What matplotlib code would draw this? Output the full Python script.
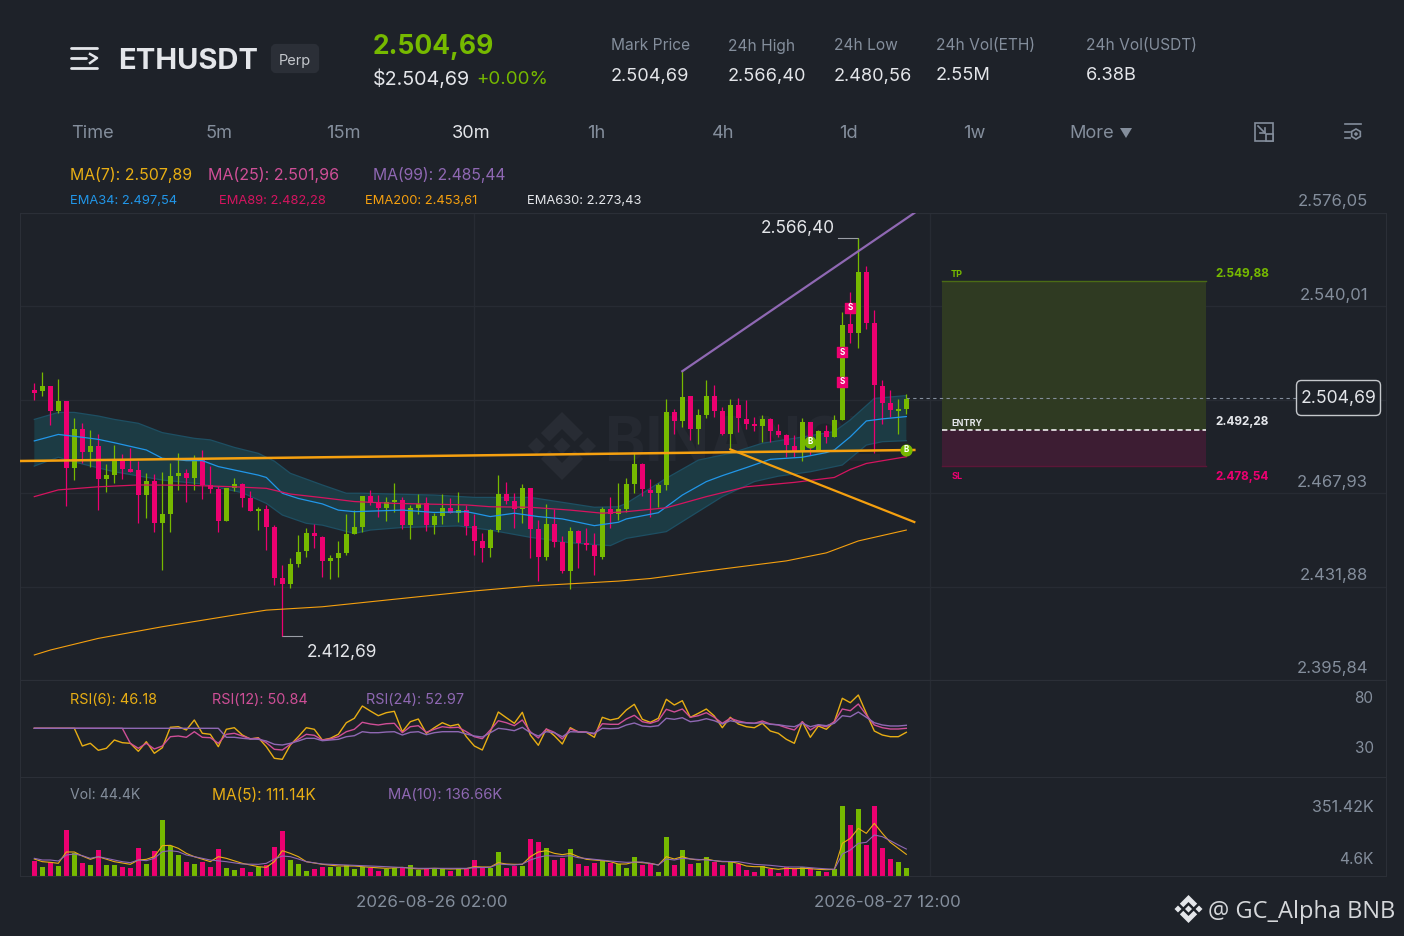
#!/usr/bin/env python3
"""ETHUSDT 30m candle chart with EMA ribbon, RSI and volume panels."""

import matplotlib
matplotlib.use('Agg')
import matplotlib.pyplot as plt
import numpy as np
from matplotlib.patches import FancyBboxPatch, Polygon, Rectangle, RegularPolygon

plt.rcParams['font.family'] = ['Inter', 'DejaVu Sans']

BG = '#1E2229'
GRID = '#272B33'
BORDER = '#2B2F37'
GRAY = '#848E9C'
LIGHT = '#E4E6EA'
GREEN = '#76B900'
PINK = '#EC0070'
ORANGE = '#F5A00F'
YELLOW = '#E8AE14'
ROSE = '#CF4F97'
PURPLE = '#8F68B3'
BLUE = '#2196E8'
CRIMSON = '#D5145F'

# candles
candle_dir = ('pgpgpgpgpg' 'gpppgpgggp' 'gpppggppgp' 'ppgggppggg' 'ggppggpggp'
              'ggpgpppggp' 'pgppgppgpp' 'pgpgggppgg' 'pgpggppgpp' 'pgppppgpgp' 'ggpgppppgg')
candle_high = [
    2510.6, 2514.6, 2509.2, 2512.0, 2503.4, 2496.8, 2495.2, 2492.2, 2490.6, 2479.2,
    2486.5, 2483.1, 2485.2, 2480.2, 2475.9, 2475.2, 2476.1, 2479.7, 2483.3, 2477.1,
    2482.7, 2484.6, 2478.4, 2470.7, 2469.9, 2473.7, 2471.7, 2468.9, 2462.5, 2463.2,
    2455.7, 2440.2, 2442.9, 2451.9, 2454.6, 2455.9, 2451.4, 2444.2, 2449.3, 2459.8,
    2461.4, 2467.0, 2469.2, 2467.2, 2466.5, 2471.9, 2466.3, 2463.2, 2467.5, 2466.3,
    2460.4, 2467.6, 2466.1, 2468.5, 2463.4, 2459.9, 2452.4, 2454.0, 2474.8, 2472.3,
    2468.0, 2471.4, 2469.9, 2457.6, 2463.6, 2462.0, 2451.4, 2454.9, 2453.7, 2454.6,
    2452.4, 2462.7, 2466.5, 2472.0, 2473.9, 2483.3, 2479.5, 2473.3, 2472.0, 2504.2,
    2500.4, 2515.0, 2505.6, 2500.3, 2511.6, 2509.6, 2501.3, 2504.3, 2504.8, 2503.9,
    2497.2, 2498.1, 2497.1, 2494.6, 2490.8, 2490.4, 2497.0, 2495.4, 2492.3, 2494.1,
    2498.1, 2537.7, 2545.5, 2566.40, 2555.6, 2538.6, 2511.6, 2507.8, 2504.3, 2506.1,
]
body_top = [
    2507.6, 2509.2, 2509.2, 2503.4, 2503.4, 2492.7, 2492.6, 2486.1, 2486.1, 2475.1,
    2480.7, 2480.7, 2477.1, 2476.9, 2472.6, 2472.6, 2459.9, 2474.6, 2475.9, 2475.9,
    2481.4, 2481.4, 2471.0, 2469.5, 2469.8, 2471.5, 2471.6, 2465.9, 2462.0, 2462.0,
    2455.0, 2435.2, 2440.6, 2445.4, 2452.6, 2452.6, 2451.1, 2442.8, 2445.0, 2452.2,
    2454.9, 2466.8, 2466.8, 2464.4, 2464.4, 2465.3, 2465.3, 2462.1, 2463.8, 2464.0,
    2459.0, 2462.2, 2462.2, 2461.3, 2461.3, 2455.3, 2449.5, 2453.7, 2467.6, 2467.6,
    2464.9, 2469.8, 2469.8, 2454.0, 2456.0, 2456.0, 2449.2, 2453.2, 2453.2, 2448.8,
    2447.9, 2461.8, 2461.8, 2461.7, 2471.6, 2479.1, 2479.1, 2469.3, 2471.2, 2499.4,
    2499.4, 2505.2, 2505.4, 2498.0, 2505.4, 2505.4, 2499.8, 2502.1, 2502.1, 2496.6,
    2494.8, 2496.6, 2496.6, 2491.9, 2490.4, 2486.3, 2495.4, 2495.3, 2491.9, 2491.9,
    2496.1, 2533.0, 2533.1, 2553.1, 2553.1, 2533.5, 2509.4, 2502.6, 2500.3, 2504.4,
]
body_bottom = [
    2506.7, 2507.5, 2499.8, 2499.8, 2477.7, 2477.7, 2484.0, 2483.8, 2473.5, 2473.5,
    2475.1, 2477.1, 2476.1, 2467.4, 2467.4, 2456.3, 2456.3, 2459.9, 2474.6, 2473.8,
    2473.7, 2471.0, 2469.5, 2457.2, 2457.2, 2469.8, 2465.9, 2461.2, 2461.2, 2455.0,
    2435.2, 2432.9, 2432.9, 2440.7, 2445.5, 2451.3, 2441.6, 2441.6, 2442.9, 2445.0,
    2452.2, 2454.9, 2464.3, 2462.3, 2462.3, 2464.4, 2455.6, 2455.6, 2462.1, 2455.6,
    2455.6, 2459.0, 2460.3, 2460.3, 2455.3, 2449.5, 2446.8, 2446.8, 2453.7, 2464.9,
    2462.0, 2462.0, 2454.0, 2443.3, 2443.3, 2449.2, 2437.9, 2437.9, 2448.8, 2447.9,
    2443.7, 2443.4, 2459.9, 2459.9, 2461.7, 2471.6, 2469.5, 2467.9, 2467.9, 2471.1,
    2495.8, 2495.9, 2492.6, 2492.6, 2498.0, 2499.8, 2490.8, 2490.8, 2496.8, 2494.8,
    2493.9, 2493.9, 2491.9, 2490.5, 2486.5, 2484.0, 2484.0, 2485.2, 2484.6, 2489.5,
    2489.5, 2496.1, 2529.8, 2529.8, 2533.5, 2509.6, 2502.7, 2500.0, 2499.5, 2500.3,
]
candle_low = [
    2503.9, 2505.6, 2494.3, 2498.8, 2463.0, 2473.0, 2479.7, 2478.2, 2461.4, 2468.5,
    2471.7, 2473.3, 2476.0, 2456.6, 2458.4, 2453.0, 2438.3, 2453.0, 2469.2, 2464.7,
    2469.2, 2465.8, 2467.9, 2453.1, 2457.2, 2468.9, 2462.6, 2461.2, 2453.7, 2446.0,
    2432.5, 2412.69, 2431.2, 2439.6, 2443.2, 2446.6, 2435.7, 2434.7, 2435.7, 2443.9,
    2452.2, 2453.1, 2463.2, 2458.9, 2457.2, 2460.8, 2454.1, 2450.2, 2460.0, 2453.3,
    2452.0, 2455.9, 2460.2, 2456.9, 2451.8, 2444.1, 2441.5, 2443.4, 2453.0, 2463.8,
    2454.4, 2456.3, 2442.9, 2434.0, 2442.1, 2447.3, 2437.3, 2430.9, 2438.9, 2446.0,
    2436.2, 2442.7, 2454.6, 2457.6, 2460.8, 2467.9, 2466.8, 2458.6, 2462.7, 2469.2,
    2490.8, 2493.6, 2488.5, 2486.9, 2496.8, 2497.2, 2490.5, 2484.6, 2491.7, 2492.8,
    2492.1, 2487.8, 2487.8, 2489.7, 2482.0, 2482.0, 2480.5, 2482.7, 2484.6, 2487.4,
    2489.5, 2496.1, 2526.0, 2524.0, 2531.2, 2483.6, 2494.6, 2497.2, 2490.8, 2498.4,
]

# moving averages on price, read at selected candles
ema34_idx = [0, 3, 6, 8, 10, 14, 16, 19, 21, 23, 28, 29, 31, 33, 36, 38, 40, 42, 46, 50, 54, 55, 57, 60,
             63, 66, 70, 73, 74, 78, 81, 84, 86, 89, 92, 96, 99, 100, 102, 104, 106, 109]
ema34_val = [2488.1, 2490.6, 2489.5, 2488.7, 2487.4, 2484.6, 2481.4, 2480.5, 2480.5, 2478.2, 2474.9, 2474.0,
             2467.9, 2465.9, 2463.8, 2461.4, 2460.8, 2461.0, 2461.4, 2460.5, 2460.8, 2460.2, 2458.9, 2460.2,
             2458.9, 2458.0, 2455.4, 2456.7, 2458.0, 2460.4, 2467.2, 2472.4, 2474.7, 2477.8, 2481.0, 2481.8,
             2483.6, 2484.6, 2489.7, 2495.8, 2496.6, 2497.5]
ema89_idx = [0, 3, 8, 13, 19, 25, 29, 32, 36, 40, 45, 54, 57, 62, 67, 71, 74, 79, 84, 89, 95, 100, 102, 104, 109]
ema89_val = [2466.6, 2469.2, 2470.4, 2471.1, 2471.0, 2470.4, 2469.8, 2467.6, 2466.2, 2464.7, 2464.0, 2463.4,
             2462.7, 2462.5, 2461.4, 2460.2, 2460.8, 2462.3, 2466.6, 2470.4, 2472.1, 2474.0, 2477.1, 2479.4, 2482.0]
ema200_idx = [0, 2, 8, 16, 25, 29, 36, 45, 55, 62, 73, 77, 83, 94, 99, 103, 109]
ema200_val = [2405.5, 2407.4, 2411.9, 2416.4, 2420.9, 2422.8, 2424.1, 2427.0, 2430.2, 2432.1, 2434.0, 2435.0,
              2437.5, 2441.8, 2444.9, 2449.5, 2453.7]
upper_idx = [0, 3, 5, 8, 10, 13, 16, 20, 22, 25, 28, 30, 32, 36, 39, 41, 50, 55, 62, 70, 73, 74, 79, 83, 87,
             91, 95, 100, 102, 105, 109]
upper_val = [2496.4, 2499.1, 2499.1, 2497.7, 2496.4, 2494.9, 2491.3, 2489.1, 2488.5, 2485.6, 2483.3, 2480.3,
             2475.6, 2471.1, 2467.9, 2467.9, 2467.2, 2466.3, 2466.3, 2462.5, 2462.7, 2464.0, 2473.7, 2480.7,
             2483.3, 2487.2, 2489.1, 2491.7, 2496.2, 2504.5, 2505.6]
lower_idx = [0, 3, 6, 10, 16, 21, 26, 29, 31, 34, 36, 40, 42, 46, 53, 57, 62, 67, 72, 74, 79, 82, 86, 90, 93,
             97, 101, 104, 106, 109]
lower_val = [2478.4, 2481.8, 2479.2, 2476.2, 2473.0, 2471.5, 2468.1, 2464.0, 2459.5, 2456.3, 2455.6, 2452.4,
             2453.7, 2454.7, 2455.3, 2453.7, 2450.9, 2448.8, 2447.7, 2450.5, 2453.1, 2458.9, 2466.6, 2472.4,
             2474.5, 2476.2, 2478.8, 2486.5, 2487.8, 2488.2]

# drawings on the price panel: (candle, price) pairs
trend_up = ([81, 110], [2515.0, 2576.05])
support = ([-1.8, 110], [2480.35, 2484.6])
trend_down = ([87, 110], [2484.85, 2456.8])
sell_marks = ([101, 101, 102], [2522.3, 2511.0, 2539.5])
buy_marks = ([97, 109], [2487.8, 2484.6])

tp_price = 2549.88
entry_price = 2492.28
sl_price = 2478.54
last_price = 2504.69
box_span = (113.5, 146.5)

price_ticks = [2576.05, 2540.01, 2503.97, 2467.93, 2431.88, 2395.84]
price_tick_labels = ['2.576,05', '2.540,01', '', '2.467,93', '2.431,88', '2.395,84']

rsi6 = [
    50.2, 50.2, 50.2, 50.2, 50.2, 50.2, 32.5, 35.2, 28.2, 30.2, 38.5, 35.8, 35.2, 27.2, 36.8, 25.2, 30.8, 51.2,
    51.8, 48.5, 58.5, 45.2, 44.2, 31.8, 49.2, 50.8, 43.5, 39.5, 40.8, 31.8, 20.2, 19.2, 33.5, 41.8, 50.8, 49.2,
    38.5, 40.2, 44.2, 55.8, 60.2, 72.5, 67.5, 62.8, 65.8, 67.2, 46.8, 56.8, 59.5, 45.2, 50.8, 55.8, 52.5, 54.2,
    41.8, 32.5, 28.5, 46.8, 66.5, 60.8, 55.2, 66.2, 43.5, 33.2, 49.5, 42.8, 34.5, 50.8, 46.5, 46.2, 41.2, 61.2,
    58.5, 60.2, 68.5, 74.2, 59.2, 56.2, 60.2, 79.2, 73.5, 77.8, 61.2, 65.2, 69.5, 62.5, 50.8, 61.2, 54.5, 51.8,
    50.8, 55.2, 47.5, 45.2, 39.2, 35.2, 56.8, 41.2, 52.5, 49.2, 56.8, 80.2, 75.8, 83.5, 65.2, 47.5, 43.5, 41.8,
    41.8, 46.2,
]
rsi12 = [
    50.2, 50.2, 50.2, 50.2, 50.2, 50.2, 50.2, 50.2, 50.2, 50.2, 50.2, 50.2, 35.2, 30.2, 35.2, 29.5, 32.5, 41.8,
    42.5, 41.2, 46.8, 41.2, 40.8, 35.2, 44.2, 45.2, 42.5, 39.8, 40.2, 35.8, 29.2, 28.5, 34.2, 39.2, 44.2, 43.2,
    38.5, 39.5, 41.8, 46.8, 49.2, 56.2, 54.5, 53.5, 54.8, 55.2, 45.8, 51.8, 52.8, 46.2, 49.2, 51.8, 50.8, 51.2,
    46.8, 41.8, 39.8, 48.5, 57.8, 55.8, 52.8, 58.5, 46.8, 40.5, 49.5, 46.2, 39.5, 49.5, 46.8, 46.5, 44.5, 54.8,
    54.2, 54.2, 59.5, 63.2, 56.8, 55.2, 57.8, 69.2, 66.5, 69.5, 61.2, 62.8, 65.8, 61.2, 55.2, 60.2, 57.5, 55.8,
    55.2, 57.5, 54.5, 53.5, 50.8, 48.5, 56.8, 48.5, 53.5, 51.8, 56.8, 69.5, 67.8, 74.5, 63.5, 53.5, 50.8, 49.5,
    49.5, 50.2,
]
rsi24 = [
    50.2, 50.2, 50.2, 50.2, 50.2, 50.2, 50.2, 50.2, 50.2, 50.2, 50.2, 50.2, 50.2, 50.2, 50.2, 50.2, 50.2, 50.2,
    50.2, 50.2, 50.2, 50.2, 50.2, 50.2, 41.2, 41.2, 40.2, 39.5, 39.2, 37.5, 34.2, 33.5, 35.2, 37.5, 40.2, 40.2,
    37.8, 38.5, 39.2, 41.8, 42.8, 46.8, 45.8, 45.8, 46.5, 46.8, 43.5, 46.2, 46.8, 43.8, 45.8, 46.8, 46.8, 46.8,
    44.5, 42.5, 41.5, 45.8, 50.2, 49.2, 47.8, 51.2, 45.8, 42.5, 46.8, 45.8, 41.8, 46.8, 46.5, 46.2, 45.2, 50.2,
    49.8, 50.2, 53.5, 55.5, 52.5, 51.8, 52.8, 60.2, 59.2, 60.8, 56.8, 57.8, 59.8, 57.8, 54.5, 57.8, 56.2, 55.5,
    55.2, 55.8, 54.2, 53.8, 52.5, 51.8, 55.2, 51.8, 53.8, 52.8, 55.2, 62.8, 61.8, 66.5, 61.2, 55.8, 53.5, 52.5,
    52.5, 53.2,
]

volume = [
    75.3, 46.8, 71.9, 50.2, 232.5, 113.8, 66.9, 53.5, 132.2, 56.9, 56.9, 46.8, 41.8, 140.5, 61.9, 123.8, 279.4,
    150.6, 103.7, 71.9, 61.9, 70.3, 45.2, 133.8, 40.2, 31.8, 38.5, 21.7, 43.5, 53.5, 145.6, 224.2, 80.3, 60.2,
    25.1, 33.5, 46.8, 46.8, 46.8, 56.9, 33.5, 43.5, 38.5, 25.1, 33.5, 38.5, 46.8, 53.5, 31.8, 36.8, 33.5, 35.1,
    25.1, 33.5, 33.5, 80.3, 38.5, 38.5, 120.5, 38.5, 51.9, 50.2, 184.0, 169.0, 140.5, 78.6, 92.0, 133.8, 60.2,
    50.2, 66.9, 78.6, 66.9, 61.9, 40.2, 95.4, 56.9, 63.6, 21.7, 195.7, 53.5, 128.8, 61.9, 66.9, 95.4, 71.9, 53.5,
    70.3, 61.9, 31.8, 21.7, 50.2, 35.1, 16.7, 46.8, 33.5, 45.2, 40.2, 26.8, 21.7, 33.5, 351.4, 256.0, 337.9,
    153.9, 351.4, 138.9, 85.3, 71.9, 38.5,
]
vol_ma5_idx = [0, 1, 2, 3, 4, 5, 6, 7, 8, 10, 12, 13, 14, 15, 16, 17, 18, 19, 20, 22, 23, 24, 26, 28, 29, 30, 31, 32,
               33, 34, 36, 38, 40, 42, 44, 46, 48, 50, 52, 54, 55, 56, 57, 58, 59, 60, 61, 62, 63, 64, 65, 66, 67,
               68, 69, 70, 71, 72, 73, 74, 75, 76, 77, 78, 79, 80, 81, 82, 83, 84, 85, 86, 87, 88, 89, 90, 91, 92,
               93, 94, 95, 96, 97, 98, 99, 100, 101, 102, 103, 104, 105, 106, 107, 108, 109]
vol_ma5_val = [85.3, 71.9, 68.6, 63.6, 120.5, 120.5, 100.4, 83.7, 97.0, 71.9, 58.6, 80.3, 83.7, 97.0, 152.2, 153.9,
               138.9, 113.8, 97.0, 71.9, 97.0, 88.7, 63.6, 46.8, 43.5, 71.9, 127.1, 113.8, 97.0, 71.9, 58.6, 50.2,
               50.2, 43.5, 38.5, 43.5, 35.1, 38.5, 35.1, 36.8, 46.8, 45.2, 45.2, 66.9, 60.2, 58.6, 58.6, 97.0, 120.5,
               127.1, 113.8, 107.1, 113.8, 97.0, 83.7, 80.3, 77.0, 71.9, 60.2, 60.2, 70.3, 66.9, 63.6, 55.2, 97.0,
               85.3, 97.0, 85.3, 80.3, 85.3, 77.0, 71.9, 71.9, 63.6, 50.2, 46.8, 46.8, 38.5, 33.5, 38.5, 36.8, 38.5,
               36.8, 33.5, 31.8, 33.5, 164.0, 189.0, 239.2, 214.1, 264.3, 214.1, 169.0, 138.9, 108.7]
vol_ma10_idx = [0, 1, 2, 3, 4, 5, 6, 7, 8, 9, 10, 11, 12, 13, 14, 15, 16, 17, 18, 19, 20, 22, 24, 26, 28, 29, 30, 31,
                32, 33, 34, 36, 40, 44, 48, 54, 55, 57, 58, 60, 61, 62, 63, 64, 66, 67, 68, 70, 72, 74, 76, 78, 79,
                80, 81, 84, 86, 88, 90, 92, 94, 96, 98, 100, 101, 102, 103, 104, 105, 106, 107, 108, 109]
vol_ma10_val = [88.7, 80.3, 80.3, 75.3, 105.4, 110.4, 102.1, 88.7, 97.0, 88.7, 80.3, 71.9, 66.9, 80.3, 77.0, 88.7,
                122.1, 127.1, 122.1, 105.4, 97.0, 80.3, 71.9, 60.2, 58.6, 63.6, 85.3, 100.4, 97.0, 85.3, 71.9, 60.2,
                53.5, 46.8, 38.5, 38.5, 41.8, 43.5, 60.2, 55.2, 60.2, 80.3, 93.7, 102.1, 98.7, 102.1, 92.0, 83.7,
                75.3, 68.6, 70.3, 55.2, 85.3, 80.3, 88.7, 80.3, 73.6, 71.9, 58.6, 53.5, 45.2, 45.2, 38.5, 33.5,
                110.4, 130.5, 164.0, 169.0, 205.8, 197.4, 177.3, 155.6, 135.5]

# header
stat_labels = ['Mark Price', '24h High', '24h Low', '24h Vol(ETH)', '24h Vol(USDT)']
stat_values = ['2.504,69', '2.566,40', '2.480,56', '2.55M', '6.38B']
intervals = ['Time', '5m', '15m', '30m', '1h', '4h', '1d', '1w', 'More']
time_ticks = [55, 112]
time_labels = ['2026-08-26 02:00', '2026-08-27 12:00']


def bnb_logo(ax, cx, cy, r, color):
    for dx in (-0.75, 0, 0.75):
        pts = [(dx, -0.25), (dx + 0.25, 0), (dx, 0.25), (dx - 0.25, 0)]
        ax.add_patch(Polygon([(cx + r * a, cy + r * b) for a, b in pts], color=color, lw=0))
    for sign in (-1, 1):
        pts = [(0, -1), (0.62, -0.38), (0.37, -0.13), (0, -0.5), (-0.37, -0.13), (-0.62, -0.38)]
        ax.add_patch(Polygon([(cx + r * a, cy + sign * r * b) for a, b in pts], color=color, lw=0))


def draw_decor(deco):
    # menu icon
    deco.plot([71, 97], [48, 48], color=LIGHT, lw=2, solid_capstyle='round')
    deco.plot([71, 86], [58, 58], color=LIGHT, lw=2, solid_capstyle='round')
    deco.plot([71, 97], [68, 68], color=LIGHT, lw=2, solid_capstyle='round')
    deco.plot([90, 97, 90], [54, 58, 63], color=LIGHT, lw=1.8)
    deco.text(118, 61.5, 'ETHUSDT', color=LIGHT, fontsize=21, fontweight='bold', va='center')
    deco.add_patch(FancyBboxPatch((273, 46), 44, 25, boxstyle='round,pad=0,rounding_size=3', fc='#2B2F37', ec='#2B2F37', lw=3))
    deco.text(295, 61, 'Perp', color='#C4C7CC', fontsize=10.5, ha='center', va='center')
    deco.text(373, 47.5, '2.504,69', color=GREEN, fontsize=19, fontweight='bold', va='center')
    deco.text(373, 79, '$2.504,69', color=LIGHT, fontsize=14.2, va='center')
    deco.text(476, 79, '+0.00%', color=GREEN, fontsize=13.5, va='center')
    for x, label, value in zip([611, 728, 834, 936, 1086], stat_labels, stat_values):
        deco.text(x, 46, label, color=GRAY, fontsize=11.2, va='center')
        deco.text(x, 76, value, color=LIGHT, fontsize=13.1, va='center')
    for x, label in zip([71, 205.5, 326, 452, 587, 712, 839, 963, 1069], intervals):
        deco.text(x, 134, label, color=LIGHT if label == '30m' else GRAY, fontsize=13.1, va='center')
    deco.add_patch(Polygon([(1120, 128), (1132, 128), (1126, 138)], color=GRAY, lw=0))
    # chart type icons
    deco.add_patch(Rectangle((1254.5, 122.5), 18, 18, fc='none', ec=GRAY, lw=1.2))
    deco.add_patch(Rectangle((1265.5, 133.5), 7, 7, fc=BG, ec=GRAY, lw=1.2))
    deco.plot([1258, 1265], [126, 133], color=GRAY, lw=1.2)
    deco.plot([1265, 1265, 1260], [128, 133, 133], color=GRAY, lw=1.2)
    deco.plot([1345, 1361], [124, 124], color=GRAY, lw=1.2)
    deco.plot([1345, 1350], [132, 132], color=GRAY, lw=1.2)
    deco.plot([1345, 1350], [138, 138], color=GRAY, lw=1.2)
    deco.add_patch(RegularPolygon((1356, 134), 6, radius=5, fc='none', ec=GRAY, lw=1.2))
    deco.add_patch(RegularPolygon((1356, 134), 6, radius=1.5, fc=GRAY, ec=GRAY, lw=0.5))
    # legends
    for x, s, c, size in zip([70, 208, 373], ['MA(7): 2.507,89', 'MA(25): 2.501,96', 'MA(99): 2.485,44'],
                             [YELLOW, ROSE, PURPLE], [11.4, 11.5, 11.3]):
        deco.text(x, 175, s, color=c, fontsize=size, va='center')
    for x, s, c in zip([70, 219, 365, 527],
                       ['EMA34: 2.497,54', 'EMA89: 2.482,28', 'EMA200: 2.453,61', 'EMA630: 2.273,43'],
                       [BLUE, CRIMSON, ORANGE, LIGHT]):
        deco.text(x, 201, s, color=c, fontsize=9.3, va='center')
    for x, s, c in zip([70, 212, 366], ['RSI(6): 46.18', 'RSI(12): 50.84', 'RSI(24): 52.97'], [YELLOW, ROSE, PURPLE]):
        deco.text(x, 700, s, color=c, fontsize=10.4, va='center')
    for x, s, c, size in zip([70, 212, 388], ['Vol: 44.4K', 'MA(5): 111.14K', 'MA(10): 136.66K'],
                             [GRAY, YELLOW, PURPLE], [10.1, 11.1, 10.6]):
        deco.text(x, 795, s, color=c, fontsize=size, va='center')
    # faint exchange mark behind the candles
    bnb_logo(deco, 562, 446, 34, '#282C34')
    deco.text(605, 446, 'BINANCE', color='#252931', fontsize=44, fontweight='bold', va='center')
    # credit
    bnb_logo(deco, 1188.5, 909, 14, '#E4E6EA')
    deco.text(1208, 912, '@ GC_Alpha BNB', color='#D5D7DA', fontsize=17, family=['Open Sans', 'DejaVu Sans'], va='center')


def style_panel(ax, ticks):
    ax.set_facecolor('none')
    ax.set_xticks(time_ticks)
    ax.grid(True, axis='x', color=GRID, linewidth=1)
    ax.set_axisbelow(True)
    ax.tick_params(axis='x', length=0, labelbottom=False)
    ax.yaxis.tick_right()
    ax.set_yticks(ticks)
    ax.tick_params(axis='y', length=0, labelright=False)
    for spine in ax.spines.values():
        spine.set_color(BORDER)


def side_label(ax, value, text, dx, dy, size):
    ax.annotate(text, xy=(1, value), xycoords=ax.get_yaxis_transform(), xytext=(dx, dy),
                textcoords='offset points', color=GRAY, fontsize=size, ha='right', va='center')


def draw_price(ax, deco):
    x = np.arange(len(candle_high))
    colors = [GREEN if c == 'g' else PINK for c in candle_dir]
    ax.fill(list(upper_idx) + lower_idx[::-1], list(upper_val) + lower_val[::-1], color='#1C3B44', lw=0, zorder=1)
    ax.plot(upper_idx, upper_val, color='#1E4F63', lw=0.9, zorder=1.5)
    ax.plot(lower_idx, lower_val, color='#1E4F63', lw=0.9, zorder=1.5)
    ax.vlines(x, candle_low, candle_high, colors=colors, lw=0.9, zorder=2)
    ax.bar(x, np.array(body_top) - np.array(body_bottom), bottom=body_bottom, width=0.64, color=colors, lw=0, zorder=2.5)
    ax.plot(ema34_idx, ema34_val, color=BLUE, lw=0.9, zorder=3)
    ax.plot(ema89_idx, ema89_val, color=CRIMSON, lw=0.9, zorder=3)
    ax.plot(ema200_idx, ema200_val, color=ORANGE, lw=0.8, zorder=3)
    ax.plot(*trend_up, color=PURPLE, lw=1.6, zorder=3.5)
    ax.plot(*support, color=ORANGE, lw=1.8, zorder=3.5)
    ax.plot(*trend_down, color=ORANGE, lw=1.6, zorder=3.5)
    ax.axhspan(entry_price, tp_price, *[(v + 1.79) / 170.75 for v in box_span], color='#2F3A22', lw=0, zorder=1)
    ax.axhspan(sl_price, entry_price, *[(v + 1.79) / 170.75 for v in box_span], color='#3D1D33', lw=0, zorder=1)
    ax.plot(box_span, [tp_price, tp_price], color='#4B6B15', lw=1, zorder=1.2)
    ax.plot(box_span, [sl_price, sl_price], color='#5C1638', lw=1, zorder=1.2)
    ax.plot(box_span, [entry_price, entry_price], color='white', lw=1.1, ls=(0, (3.5, 2)), zorder=2)
    ax.plot([109, 157.7], [last_price, last_price], color=GRAY, lw=0.8, ls=(0, (3, 3)), zorder=1.6)
    ax.text(114.6, tp_price + 0.6, 'TP', color=GREEN, fontsize=6.5, fontweight='bold', va='bottom')
    ax.text(114.6, entry_price + 0.9, 'ENTRY', color=LIGHT, fontsize=6.5, fontweight='bold', va='bottom')
    ax.text(114.6, sl_price - 2.4, 'SL', color=PINK, fontsize=6.5, fontweight='bold', va='top')
    ax.text(147.6, tp_price + 0.5, '2.549,88', color=GREEN, fontsize=8.5, fontweight='bold', va='bottom')
    ax.text(147.6, entry_price + 0.7, '2.492,28', color=LIGHT, fontsize=8.5, fontweight='bold', va='bottom')
    ax.text(147.6, sl_price - 1.9, '2.478,54', color=PINK, fontsize=8.5, fontweight='bold', va='top')
    # high / low callouts
    ax.plot([100.5, 103, 103], [2566.4, 2566.4, 2560], color='#9A9EA6', lw=0.8, zorder=1.6)
    ax.text(100, 2569.9, '2.566,40', color=LIGHT, fontsize=12.4, ha='right', va='center')
    ax.plot([31, 33.5], [2412.69, 2412.69], color='#9A9EA6', lw=0.8, zorder=1.6)
    ax.text(34, 2406.6, '2.412,69', color=LIGHT, fontsize=12.4, ha='left', va='center')
    # signal badges
    ax.scatter(*sell_marks, marker='s', s=46, color=PINK, zorder=5)
    ax.scatter(*buy_marks, marker='o', s=60, color=GREEN, zorder=5)
    for px_, py_ in zip(*sell_marks):
        ax.text(px_, py_, 'S', color='white', fontsize=5.8, fontweight='bold', ha='center', va='center', zorder=6)
    for px_, py_ in zip(*buy_marks):
        ax.text(px_, py_, 'B', color='white', fontsize=5.8, fontweight='bold', ha='center', va='center', zorder=6)
    # last price tag, placed in pixel coordinates of the page
    ax.add_patch(FancyBboxPatch((1296.5, 380.5), 84, 35, boxstyle='round,pad=0,rounding_size=5',
                                fc=BG, ec='#C5C8CC', lw=1, zorder=6, transform=deco.transData))
    ax.text(1338.5, 399, '2.504,69', color=LIGHT, fontsize=12.7, ha='center', va='center', zorder=7,
            transform=deco.transData)


fig = plt.figure(figsize=(14.04, 9.36), dpi=100, facecolor=BG)
deco = fig.add_axes([0, 0, 1, 1], zorder=0)
deco.set_xlim(0, 1404)
deco.set_ylim(936, 0)
deco.axis('off')
draw_decor(deco)

left, width = 20 / 1404, 1366 / 1404
ax_price = fig.add_axes([left, 1 - 680 / 936, width, 467 / 936], zorder=1)
ax_rsi = fig.add_axes([left, 1 - 777 / 936, width, 97 / 936], zorder=1, sharex=ax_price)
ax_vol = fig.add_axes([left, 1 - 876 / 936, width, 99 / 936], zorder=1, sharex=ax_price)

style_panel(ax_price, price_ticks)
style_panel(ax_rsi, [80, 30])
style_panel(ax_vol, [351.42])

ax_price.set_xlim(-1.79, 168.96)
ax_price.set_ylim(2395.84, 2576.05)
ax_rsi.set_ylim(1.5, 98.5)
ax_vol.set_ylim(0, 497)

ax_price.grid(True, axis='y', color=GRID, linewidth=1)
for tick, label in zip(price_ticks, price_tick_labels):
    side_label(ax_price, tick, label, -12.8, 8, 12)
draw_price(ax_price, deco)

side_label(ax_rsi, 80, '80', -9, 0, 11)
side_label(ax_rsi, 30, '30', -9, 0, 11)
ax_rsi.plot(rsi6, color=YELLOW, lw=1.0)
ax_rsi.plot(rsi12, color=ROSE, lw=1.0)
ax_rsi.plot(rsi24, color=PURPLE, lw=1.0)

ax_vol.bar(range(len(volume)), volume, width=0.64, lw=0,
           color=[GREEN if c == 'g' else PINK for c in candle_dir])
ax_vol.plot(vol_ma5_idx, vol_ma5_val, color=YELLOW, lw=0.8)
ax_vol.plot(vol_ma10_idx, vol_ma10_val, color=PURPLE, lw=0.8)
side_label(ax_vol, 351.42, '351.42K', -9, -1, 11.6)
side_label(ax_vol, 4.6, '4.6K', -9, 11, 11.2)
for tick, label in zip(time_ticks, time_labels):
    ax_vol.annotate(label, xy=(tick, 0), xycoords=ax_vol.get_xaxis_transform(), xytext=(-31, -19),
                    textcoords='offset points', color=GRAY, fontsize=12.2, ha='center', va='center')

fig.savefig('out.png', dpi=100, facecolor=BG)
